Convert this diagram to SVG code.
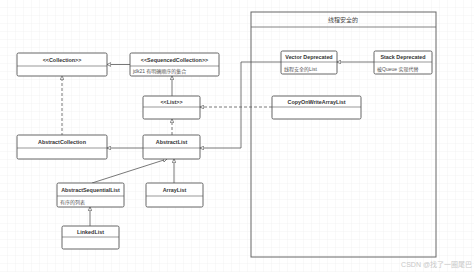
<svg xmlns="http://www.w3.org/2000/svg" width="474" height="272" viewBox="0 0 474 272">
<style>
.box{fill:#fff;stroke:#555;stroke-width:0.9}
.div{stroke:#555;stroke-width:0.6}
.h{font-family:"Liberation Sans","Noto Sans CJK SC",sans-serif;font-size:5.4px;font-weight:bold;fill:#333;text-anchor:middle;dominant-baseline:central}
.b{font-family:"Liberation Sans","Noto Sans CJK SC",sans-serif;font-size:5px;fill:#555;dominant-baseline:central}
.c{fill:none;stroke:#555;stroke-width:0.8}
.d{stroke-dasharray:3 2}
</style>
<defs>
<pattern id="g" width="8" height="8" patternUnits="userSpaceOnUse">
<path d="M8 0V8H0" fill="none" stroke="#ebebeb" stroke-width="0.6"/>
</pattern>
<marker id="t" viewBox="0 0 6 6" refX="5.5" refY="3" markerWidth="4.5" markerHeight="4.5" orient="auto" markerUnits="userSpaceOnUse">
<path d="M0.5 0.5L5.5 3L0.5 5.5Z" fill="#fff" stroke="#555" stroke-width="0.9"/>
</marker>
</defs>
<rect width="474" height="272" fill="#fff"/>
<rect width="474" height="272" fill="url(#g)"/>

<g id="frame">
<rect x="251" y="12" width="185" height="245" fill="none" stroke="#666" stroke-width="1"/>
<line x1="251" y1="27" x2="436" y2="27" stroke="#666" stroke-width="0.8"/>
<text x="343" y="19.5" class="h" style="font-weight:normal;font-size:6px;fill:#444">线程安全的</text>
</g>

<g id="connectors">
<line class="c" x1="130" y1="64.5" x2="107" y2="64.5" marker-end="url(#t)"/>
<line class="c" x1="172" y1="96" x2="172" y2="76" marker-end="url(#t)"/>
<line class="c d" x1="62" y1="136" x2="62" y2="76" marker-end="url(#t)"/>
<line class="c d" x1="172" y1="135" x2="172" y2="119" marker-end="url(#t)"/>
<line class="c" x1="143" y1="148" x2="107" y2="148" marker-end="url(#t)"/>
<path class="c" d="M281 62H241V148H200" marker-end="url(#t)"/>
<line class="c d" x1="272" y1="107" x2="200" y2="107" marker-end="url(#t)"/>
<line class="c" x1="374" y1="62" x2="337" y2="62" marker-end="url(#t)"/>
<line class="c" x1="92" y1="183" x2="167" y2="159" marker-end="url(#t)"/>
<line class="c" x1="174" y1="183" x2="174" y2="159" marker-end="url(#t)"/>
<line class="c" x1="90" y1="226" x2="90" y2="207" marker-end="url(#t)"/>
</g>

<g id="Collection">
<rect class="box" x="17" y="53" width="90" height="23" rx="1.5"/>
<line class="div" x1="17" y1="66" x2="107" y2="66"/>
<text class="h" x="62" y="59.5">&lt;&lt;Collection&gt;&gt;</text>
</g>

<g id="SequencedCollection">
<rect class="box" x="130" y="53" width="89" height="23" rx="1.5"/>
<line class="div" x1="130" y1="66" x2="219" y2="66"/>
<text class="h" x="174.5" y="59.5">&lt;&lt;SequencedCollection&gt;&gt;</text>
<text class="b" x="133" y="71">jdk21 有明确顺序的集合</text>
</g>

<g id="List">
<rect class="box" x="143" y="96" width="57" height="23" rx="1.5"/>
<line class="div" x1="143" y1="107" x2="200" y2="107"/>
<text class="h" x="171.5" y="101.5">&lt;&lt;List&gt;&gt;</text>
</g>

<g id="AbstractCollection">
<rect class="box" x="17" y="135" width="90" height="24" rx="1.5"/>
<line class="div" x1="17" y1="148" x2="107" y2="148"/>
<text class="h" x="62" y="141.5">AbstractCollection</text>
</g>

<g id="AbstractList">
<rect class="box" x="143" y="135" width="57" height="24" rx="1.5"/>
<line class="div" x1="143" y1="148" x2="200" y2="148"/>
<text class="h" x="171.5" y="141.5">AbstractList</text>
</g>

<g id="AbstractSequentialList">
<rect class="box" x="57" y="183" width="67" height="24" rx="1.5"/>
<line class="div" x1="57" y1="196" x2="124" y2="196"/>
<text class="h" x="90.5" y="189.5">AbstractSequentialList</text>
<text class="b" x="60" y="201.5">有序的列表</text>
</g>

<g id="ArrayList">
<rect class="box" x="146" y="183" width="57" height="24" rx="1.5"/>
<line class="div" x1="146" y1="196" x2="203" y2="196"/>
<text class="h" x="174.5" y="189.5">ArrayList</text>
</g>

<g id="LinkedList">
<rect class="box" x="62" y="226" width="57" height="23" rx="1.5"/>
<line class="div" x1="62" y1="237" x2="119" y2="237"/>
<text class="h" x="90.5" y="231.5">LinkedList</text>
</g>

<g id="Vector">
<rect class="box" x="281" y="51" width="56" height="23" rx="1.5"/>
<line class="div" x1="281" y1="62" x2="337" y2="62"/>
<text class="h" x="309" y="56.5">Vector Deprecated</text>
<text class="b" x="284" y="68.5">线程安全的List</text>
</g>

<g id="Stack">
<rect class="box" x="374" y="51" width="58" height="23" rx="1.5"/>
<line class="div" x1="374" y1="62" x2="432" y2="62"/>
<text class="h" x="403" y="56.5">Stack Deprecated</text>
<text class="b" x="377" y="68.5">被Queue 实现代替</text>
</g>

<g id="CopyOnWriteArrayList">
<rect class="box" x="272" y="96" width="89" height="23" rx="1.5"/>
<line class="div" x1="272" y1="107" x2="361" y2="107"/>
<text class="h" x="316.5" y="101.5">CopyOnWriteArrayList</text>
</g>

<text x="472" y="264" font-family="Liberation Sans,Noto Sans CJK SC,sans-serif" font-size="7" fill="#c8c8c8" text-anchor="end" dominant-baseline="central">CSDN @找了一圈尾巴</text>
</svg>
